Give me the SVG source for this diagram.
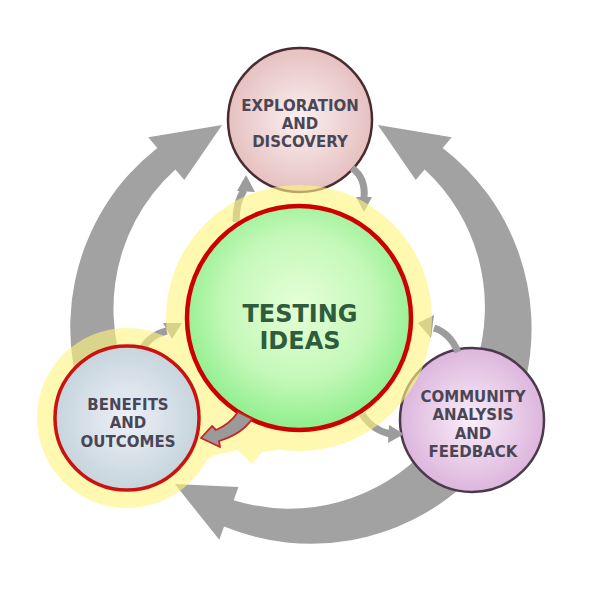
<svg xmlns="http://www.w3.org/2000/svg" width="604" height="604" viewBox="0 0 604 604">
<defs>
<radialGradient id="gCenter" cx="0.5" cy="0.45" r="0.55">
<stop offset="0" stop-color="#e6ffd8"/><stop offset="0.6" stop-color="#c4f8b8"/><stop offset="1" stop-color="#8eee8c"/>
</radialGradient>
<radialGradient id="gExp" cx="0.5" cy="0.5" r="0.55">
<stop offset="0" stop-color="#fbf0f0"/><stop offset="1" stop-color="#e4bcbc"/>
</radialGradient>
<radialGradient id="gBen" cx="0.5" cy="0.5" r="0.55">
<stop offset="0" stop-color="#eef0f8"/><stop offset="1" stop-color="#c2d2da"/>
</radialGradient>
<radialGradient id="gCom" cx="0.5" cy="0.5" r="0.55">
<stop offset="0" stop-color="#f9eef9"/><stop offset="1" stop-color="#dab0da"/>
</radialGradient>
<style>
.big{fill:#a2a2a2}
.sm{fill:none;stroke:#9c9c9c;stroke-width:7}
.smh{fill:#9c9c9c}
.lbl{font-family:"DejaVu Sans","Verdana",sans-serif;font-weight:bold;font-size:15px;fill:#4a4656;text-anchor:middle}
.main{font-family:"DejaVu Sans","Verdana",sans-serif;font-weight:bold;font-size:24px;fill:#2e5c3c;text-anchor:middle}
.halo{fill:#fff580}
</style>
</defs>
<rect width="604" height="604" fill="#ffffff"/>
<g id="connectors">
<path class="big" d="M97.4,435 A228,228 0 0 1 157.3,147.9 L148.3,137.2 L222.1,125.1 L184.3,180.1 L175.3,169.4 A188,188 0 0 0 142.4,409 Z"/>
<path class="big" d="M526,378.6 A228,228 0 0 0 442.7,147.9 L451.7,137.2 L377.9,125.1 L415.7,180.1 L424.7,169.4 A188,188 0 0 1 475.8,365.1 Z"/>
<path class="big" d="M465.5,483.5 A228,228 0 0 1 224.1,526.6 L219.3,539.8 L174.8,484.1 L238.4,487.1 L233.7,500.3 A188,188 0 0 0 428.7,446.7 Z"/>
</g>
<g id="exploration">
<circle cx="300" cy="120" r="72" fill="url(#gExp)" stroke="#4a2c30" stroke-width="2.5"/>
<text class="lbl" x="300" y="111">EXPLORATION</text>
<text class="lbl" x="300" y="129">AND</text>
<text class="lbl" x="300" y="147">DISCOVERY</text>
</g>
<g id="community">
<circle cx="472" cy="420" r="72" fill="url(#gCom)" stroke="#4a3a4a" stroke-width="2.5"/>
<text class="lbl" x="473" y="402">COMMUNITY</text>
<text class="lbl" x="473" y="420">ANALYSIS</text>
<text class="lbl" x="473" y="439">AND</text>
<text class="lbl" x="473" y="457">FEEDBACK</text>
</g>
<g id="small-arrows">
<path class="sm" d="M236,222 Q236,202 244,190"/>
<polygon class="smh" points="246,175 255,192 237,191"/>
<path class="sm" d="M352,168 Q366,178 364,198"/>
<polygon class="smh" points="356,197 372,197 364,212"/>
<path class="sm" d="M458,352 Q450,333 434,328"/>
<polygon class="smh" points="418,323 434,315 431,338"/>
<path class="sm" d="M362,414 Q372,430 390,434"/>
<polygon class="smh" points="404,434 389,425 388,443"/>
<path class="sm" d="M143,348 Q150,335 167,331"/>
<polygon class="smh" points="182,323 163,323 172,339"/>
</g>
<g id="halos" opacity="0.62">
<circle class="halo" cx="299" cy="318" r="133"/>
<circle class="halo" cx="127" cy="418" r="90"/>
<polygon class="halo" points="205,420 250,412 292,448 262,452 252,464 238,450 212,456 200,466"/>
</g>
<g id="testing">
<circle cx="299" cy="318" r="112" fill="url(#gCenter)" stroke="#cc0000" stroke-width="4.5"/>
<text class="main" x="300" y="322">TESTING</text>
<text class="main" x="300" y="349">IDEAS</text>
</g>
<g id="benefits">
<circle cx="127" cy="418" r="72" fill="url(#gBen)" stroke="#cc1111" stroke-width="3.5"/>
<text class="lbl" x="128" y="410">BENEFITS</text>
<text class="lbl" x="128" y="428">AND</text>
<text class="lbl" x="128" y="447">OUTCOMES</text>
</g>
<g id="red-arrow">
<path d="M238,412 Q230,424 216,430 L212,426 L201,438 L220,447 L219,441 Q242,434 252,419 Z" fill="#9a9a9a" stroke="#cc2222" stroke-width="1.8" stroke-linejoin="round"/>
</g>
</svg>
